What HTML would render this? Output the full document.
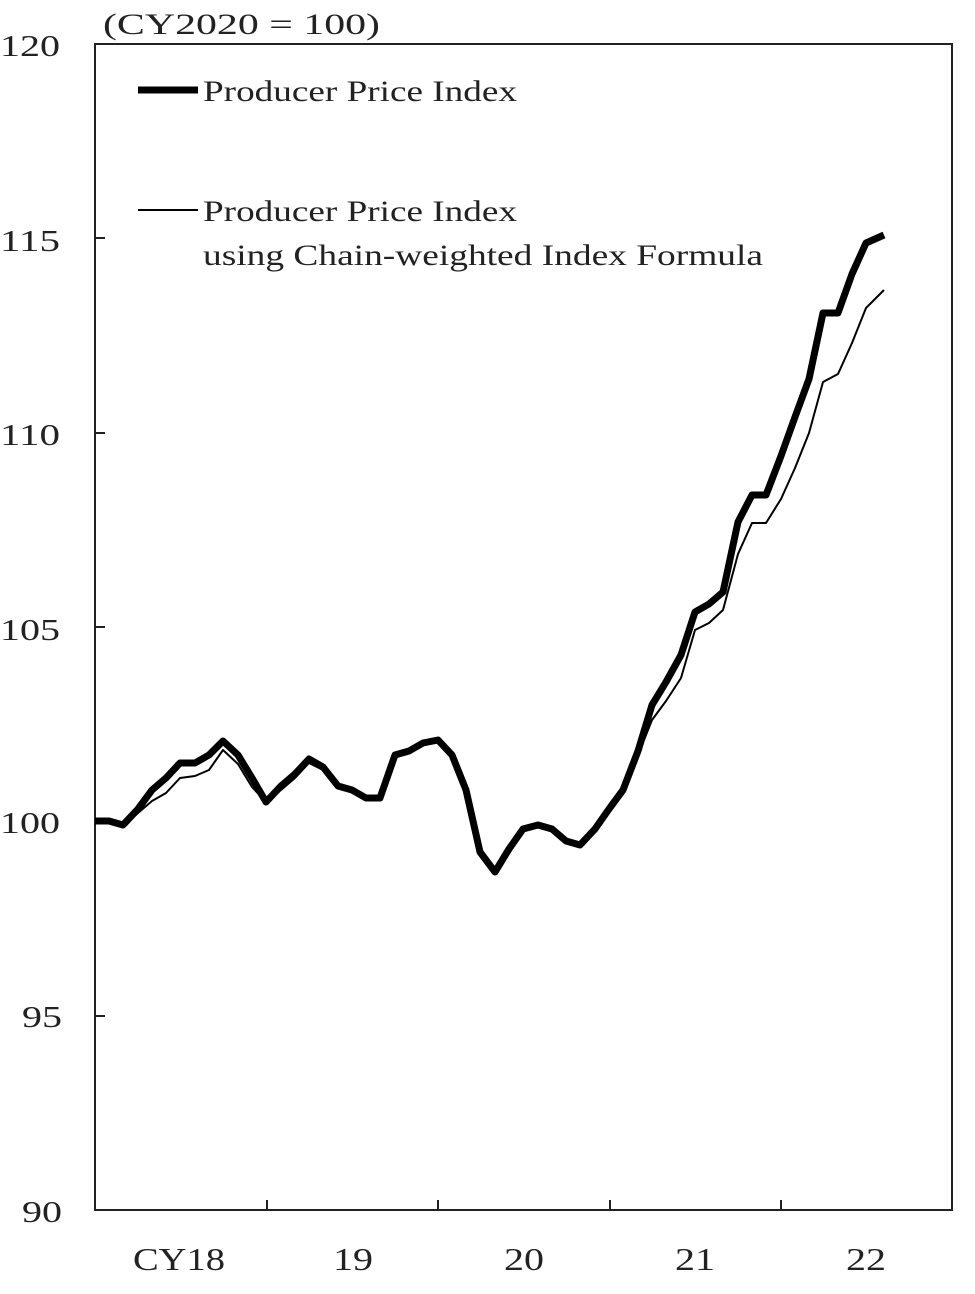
<!DOCTYPE html>
<html><head><style>
body{margin:0;background:#fff}
svg text{font-family:"Liberation Serif",serif;fill:#222}
</style></head><body>
<svg width="975" height="1289" viewBox="0 0 975 1289" xmlns="http://www.w3.org/2000/svg">
<rect x="95" y="44" width="857" height="1166" fill="none" stroke="#222" stroke-width="2"/>
<g font-size="31" lengthAdjust="spacingAndGlyphs">
<text x="0" y="56" textLength="60" lengthAdjust="spacingAndGlyphs">120</text>
<text x="0" y="251" textLength="60" lengthAdjust="spacingAndGlyphs">115</text>
<text x="0" y="445" textLength="60" lengthAdjust="spacingAndGlyphs">110</text>
<text x="0" y="640" textLength="60" lengthAdjust="spacingAndGlyphs">105</text>
<text x="0" y="833" textLength="60" lengthAdjust="spacingAndGlyphs">100</text>
<text x="22" y="1027" textLength="40" lengthAdjust="spacingAndGlyphs">95</text>
<text x="22" y="1222" textLength="40" lengthAdjust="spacingAndGlyphs">90</text>
</g>
<g stroke="#222" stroke-width="2">
<line x1="95" y1="238" x2="105" y2="238"/>
<line x1="95" y1="433" x2="105" y2="433"/>
<line x1="95" y1="627" x2="105" y2="627"/>
<line x1="95" y1="821" x2="105" y2="821"/>
<line x1="95" y1="1016" x2="105" y2="1016"/>
<line x1="267" y1="1200" x2="267" y2="1210"/>
<line x1="438" y1="1200" x2="438" y2="1210"/>
<line x1="610" y1="1200" x2="610" y2="1210"/>
<line x1="781" y1="1200" x2="781" y2="1210"/>
</g>
<text x="103" y="34" font-size="30" textLength="277" lengthAdjust="spacingAndGlyphs">(CY2020 = 100)</text>
<g font-size="32">
<text x="133" y="1270" textLength="92" lengthAdjust="spacingAndGlyphs">CY18</text>
<text x="333" y="1270" textLength="40" lengthAdjust="spacingAndGlyphs">19</text>
<text x="504" y="1270" textLength="40" lengthAdjust="spacingAndGlyphs">20</text>
<text x="675" y="1270" textLength="40" lengthAdjust="spacingAndGlyphs">21</text>
<text x="846" y="1270" textLength="40" lengthAdjust="spacingAndGlyphs">22</text>
</g>
<line x1="138" y1="90" x2="198" y2="90" stroke="#000" stroke-width="7"/>
<text x="203" y="101" font-size="30" textLength="314" lengthAdjust="spacingAndGlyphs">Producer Price Index</text>
<line x1="138" y1="210" x2="198" y2="210" stroke="#000" stroke-width="2"/>
<text x="203" y="221" font-size="30" textLength="314" lengthAdjust="spacingAndGlyphs">Producer Price Index</text>
<text x="203" y="265" font-size="30" textLength="560" lengthAdjust="spacingAndGlyphs">using Chain-weighted Index Formula</text>
<polyline fill="none" stroke="#000" stroke-width="2" stroke-linejoin="round" points="95,821 109,821 123,826 138,813 152,801 166,793 180,778 195,776 209,770 223,750 238,764 252,787 266,802 281,790 295,778 309,763 323,770 338,787 352,791 366,798 380,798 395,755 409,751 423,743 438,740 452,755 466,790 480,852 495,872 509,849 523,829 538,825 552,829 566,841 580,845 595,829 609,809 623,790 638,755 652,720 666,701 681,678 695,630 709,623 723,610 738,554 752,523 766,523 781,499 795,468 809,433 823,382 838,374 852,343 866,308 884,290"/>
<polyline fill="none" stroke="#000" stroke-width="7" stroke-linejoin="round" points="95,821 109,821 123,825 138,809 152,790 166,778 180,763 195,763 209,755 223,741 238,755 252,778 266,802 281,786 295,774 309,759 323,767 338,786 352,790 366,798 380,798 395,755 409,751 423,743 438,740 452,755 466,790 480,852 495,872 509,849 523,829 538,825 552,829 566,841 580,845 595,829 609,809 623,790 638,751 652,705 666,682 681,655 695,612 709,604 723,592 738,522 752,495 766,495 781,456 795,417 809,379 823,313 838,313 852,274 866,243 884,235"/>
</svg>
</body></html>
